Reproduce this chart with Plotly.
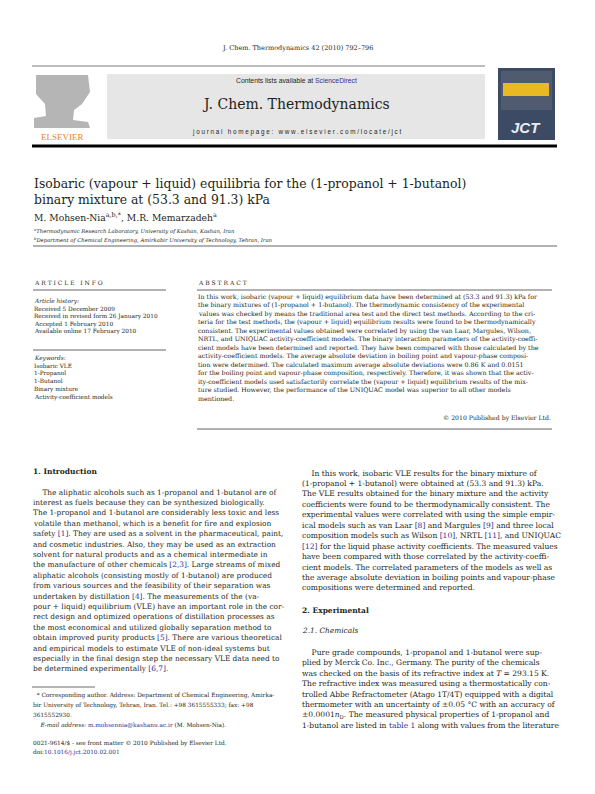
import plotly.graph_objects as go

SERIF = "DejaVu Serif"
SANS = "Liberation Sans"
LINK = "#2e3192"

header = "J. Chem. Thermodynamics 42 (2010) 792–796"
title_lines = ["Isobaric (vapour + liquid) equilibria for the (1-propanol + 1-butanol)",
               "binary mixture at (53.3 and 91.3) kPa"]
authors = "M. Mohsen-Nia<sup>a,b,*</sup>, M.R. Memarzadeh<sup>a</sup>"
affils = ["<i><sup>a</sup>Thermodynamic Research Laboratory, University of Kashan, Kashan, Iran</i>",
          "<i><sup>b</sup>Department of Chemical Engineering, Amirkabir University of Technology, Tehran, Iran</i>"]
history = ["<i>Article history:</i>", "Received 5 December 2009",
           "Received in revised form 26 January 2010", "Accepted 1 February 2010",
           "Available online 17 February 2010"]
keywords = ["<i>Keywords:</i>", "Isobaric VLE", "1-Propanol", "1-Butanol",
            "Binary mixture", "Activity-coefficient models"]
abstract = [
 "In this work, isobaric (vapour + liquid) equilibrium data have been determined at (53.3 and 91.3) kPa for",
 "the binary mixtures of (1-propanol + 1-butanol). The thermodynamic consistency of the experimental",
 "values was checked by means the traditional area test and the direct test methods. According to the cri-",
 "teria for the test methods, the (vapour + liquid) equilibrium results were found to be thermodynamically",
 "consistent. The experimental values obtained were correlated by using the van Laar, Margules, Wilson,",
 "NRTL, and UNIQUAC activity-coefficient models. The binary interaction parameters of the activity-coeffi-",
 "cient models have been determined and reported. They have been compared with those calculated by the",
 "activity-coefficient models. The average absolute deviation in boiling point and vapour-phase composi-",
 "tion were determined. The calculated maximum average absolute deviations were 0.86 K and 0.0151",
 "for the boiling point and vapour-phase composition, respectively. Therefore, it was shown that the activ-",
 "ity-coefficient models used satisfactorily correlate the (vapour + liquid) equilibrium results of the mix-",
 "ture studied. However, the performance of the UNIQUAC model was superior to all other models",
 "mentioned."]
intro = [
 "    The aliphatic alcohols such as 1-propanol and 1-butanol are of",
 "interest as fuels because they can be synthesized biologically.",
 "The 1-propanol and 1-butanol are considerably less toxic and less",
 "volatile than methanol, which is a benefit for fire and explosion",
 f"safety <span style='color:{LINK}'>[1]</span>. They are used as a solvent in the pharmaceutical, paint,",
 "and cosmetic industries. Also, they may be used as an extraction",
 "solvent for natural products and as a chemical intermediate in",
 f"the manufacture of other chemicals <span style='color:{LINK}'>[2,3]</span>. Large streams of mixed",
 "aliphatic alcohols (consisting mostly of 1-butanol) are produced",
 "from various sources and the feasibility of their separation was",
 f"undertaken by distillation <span style='color:{LINK}'>[4]</span>. The measurements of the (va-",
 "pour + liquid) equilibrium (VLE) have an important role in the cor-",
 "rect design and optimized operations of distillation processes as",
 "the most economical and utilized globally separation method to",
 f"obtain improved purity products <span style='color:{LINK}'>[5]</span>. There are various theoretical",
 "and empirical models to estimate VLE of non-ideal systems but",
 "especially in the final design step the necessary VLE data need to",
 f"be determined experimentally <span style='color:{LINK}'>[6,7]</span>."]
right1 = [
 "    In this work, isobaric VLE results for the binary mixture of",
 "(1-propanol + 1-butanol) were obtained at (53.3 and 91.3) kPa.",
 "The VLE results obtained for the binary mixture and the activity",
 "coefficients were found to be thermodynamically consistent. The",
 "experimental values were correlated with using the simple empir-",
 f"ical models such as van Laar <span style='color:{LINK}'>[8]</span> and Margules <span style='color:{LINK}'>[9]</span> and three local",
 f"composition models such as Wilson <span style='color:{LINK}'>[10]</span>, NRTL <span style='color:{LINK}'>[11]</span>, and UNIQUAC",
 f"<span style='color:{LINK}'>[12]</span> for the liquid phase activity coefficients. The measured values",
 "have been compared with those correlated by the activity-coeffi-",
 "cient models. The correlated parameters of the models as well as",
 "the average absolute deviation in boiling points and vapour-phase",
 "compositions were determined and reported."]
right2 = [
 "    Pure grade compounds, 1-propanol and 1-butanol were sup-",
 "plied by Merck Co. Inc., Germany. The purity of the chemicals",
 "was checked on the basis of its refractive index at <i>T</i> = 293.15 K.",
 "The refractive index was measured using a thermostatically con-",
 "trolled Abbe Refractometer (Atago 1T/4T) equipped with a digital",
 "thermometer with an uncertainty of ±0.05 °C with an accuracy of",
 "±0.0001<i>n</i><sub>D</sub>. The measured physical properties of 1-propanol and",
 f"1-butanol are listed in <span style='color:{LINK}'>table 1</span> along with values from the literature"]
footnote = [
 "  * Corresponding author. Address: Department of Chemical Engineering, Amirka-",
 "bir University of Technology, Tehran, Iran. Tel.: +98 3615555333; fax: +98",
 "3615552930.",
 f"    <i>E-mail address:</i> <span style='color:{LINK}'>m.mohsennia@kashanu.ac.ir</span> (M. Mohsen-Nia)."]
bottom = ["0021-9614/$ - see front matter © 2010 Published by Elsevier Ltd.",
          f"doi:<span style='color:{LINK}'>10.1016/j.jct.2010.02.001</span>"]

fig = go.Figure()
ann = []
def txt(x, y, s, size=8, font=SERIF, color="#231f20", xanchor="left"):
    ann.append(dict(x=x, y=y, text=s, showarrow=False, xanchor=xanchor, yanchor="middle",
                    borderpad=0, font=dict(family=font, size=size, color=color)))
def block(x, y0, dy, lines, size=8, **kw):
    for i, s in enumerate(lines):
        txt(x, y0 + i * dy, s.replace("    ", "&nbsp;&nbsp;&nbsp;&nbsp;"), size=size, **kw)

shapes = []
def line(x0, y0, x1, y1, w=1, c="#555"):
    shapes.append(dict(type="line", x0=x0, y0=y0, x1=x1, y1=y1, line=dict(color=c, width=w)))
def rect(x0, y0, x1, y1, fill, lw=0, lc=None):
    shapes.append(dict(type="rect", x0=x0, y0=y0, x1=x1, y1=y1, fillcolor=fill,
                       line=dict(width=lw, color=lc or fill)))

txt(297, 48, header, size=6.5, xanchor="center")
line(32, 66, 485, 66, 2, "#bdbdbd")
# Elsevier logo (tree silhouette)
shapes.append(dict(type="path", path="M36,75 L88,75 L90,92 L82,104 L74,110 L73,120 L88,122 L90,128 L34,128 L34,118 L46,116 L45,104 L36,94 Z",
                   fillcolor="#a8a8a8", line=dict(width=0), opacity=0.85))
txt(62, 137, "ELSEVIER", size=9, font="Liberation Serif", color="#f07f24", xanchor="center")
rect(107, 74, 485, 139, "#e6e6e6")
txt(296, 80, f"Contents lists available at <span style='color:{LINK}'>ScienceDirect</span>", size=6.8, font=SANS, xanchor="center")
txt(296, 104, "J. Chem. Thermodynamics", size=14, font=SERIF, xanchor="center")
txt(296, 132, "j o u r n a l &nbsp; h o m e p a g e : &nbsp; w w w . e l s e v i e r . c o m / l o c a t e / j c t", size=6.3, font=SANS, xanchor="center")
# cover
rect(498, 68, 555, 140, "#3d4a64")
rect(501, 71, 552, 110, "#505b70")
rect(503, 83, 549, 96, "#e8b923")
txt(526, 127, "<b><i>JCT</i></b>", size=15, font=SANS, color="#e8eef8", xanchor="center")
line(32, 146, 557, 146, 3, "#000")

block(33, 183, 16, title_lines, size=12.4)
txt(33, 217, authors, size=9.2)
block(33, 231, 9, affils, size=5.3)
line(33, 246, 557, 246, 1, "#666")

txt(33, 282, "A R T I C L E &nbsp; I N F O", size=6)
txt(197, 282, "A B S T R A C T", size=6)
line(33, 290, 166, 290, 1, "#666")
line(197, 290, 552, 290, 1, "#666")
block(33, 301, 7.7, history, size=5.8)
line(33, 350, 166, 350, 1, "#666")
block(33, 358, 7.8, keywords, size=5.8)
block(197, 297, 8.47, abstract, size=6.35)
txt(552, 418, "© 2010 Published by Elsevier Ltd.", size=6.2, xanchor="right")
line(197, 429, 552, 429, 1, "#666")

txt(32, 471, "<b>1. Introduction</b>", size=7.5)
block(32, 492, 10.4, intro, size=7.4)
block(301, 473, 10.45, right1, size=7.55)
txt(301, 610, "<b>2. Experimental</b>", size=7.5)
txt(301, 630, "<i>2.1. Chemicals</i>", size=7.4)
block(301, 652, 10.5, right2, size=7.55)

line(32, 687, 95, 687, 0.8, "#444")
block(32, 695, 10, footnote, size=5.8)
block(32, 743, 9.5, bottom, size=5.8)

fig.update_layout(width=595, height=794, margin=dict(l=0, r=0, t=0, b=0),
                  paper_bgcolor="white", plot_bgcolor="white",
                  xaxis=dict(range=[0, 595], visible=False, fixedrange=True),
                  yaxis=dict(range=[794, 0], visible=False, fixedrange=True),
                  annotations=ann, shapes=shapes, showlegend=False)
fig.write_html("out.html", config={"displayModeBar": False},
               post_script="document.body.style.margin='0';document.body.style.overflow='hidden';")
